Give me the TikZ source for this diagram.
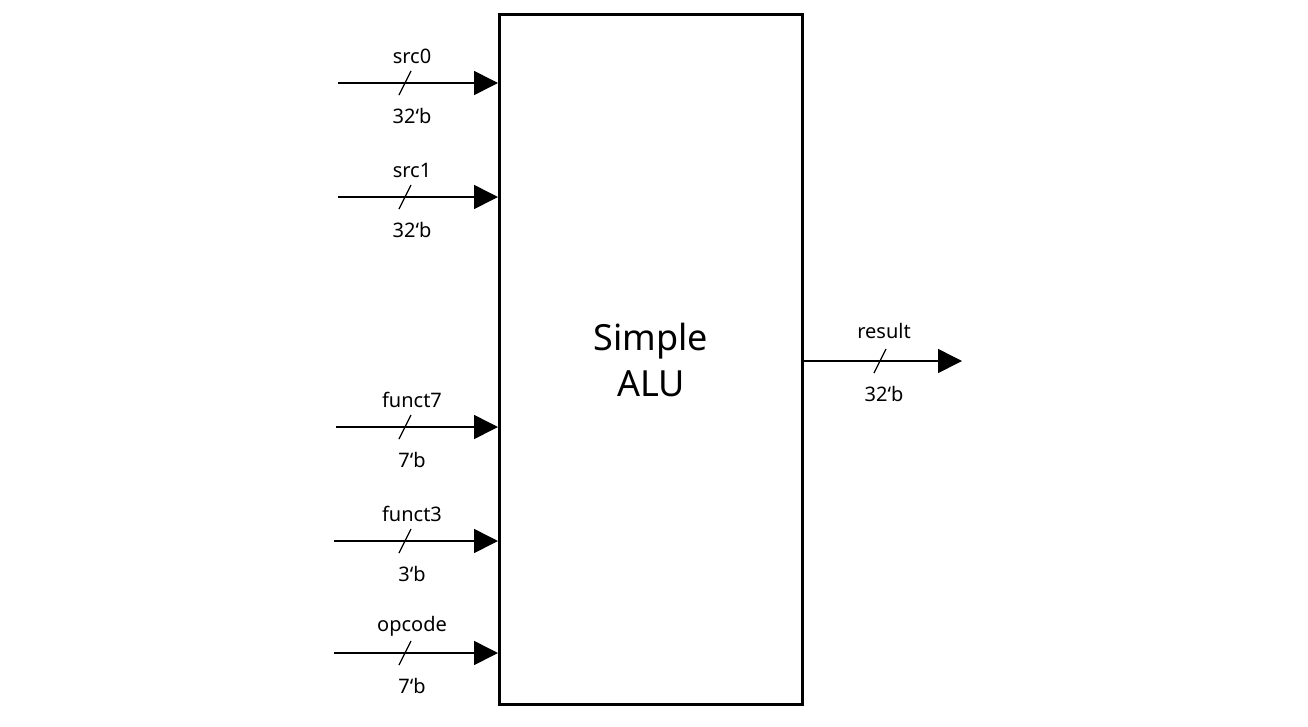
\documentclass[tikz,border=0pt]{standalone}
\usepackage{fontspec}
\setmainfont{Noto Sans}
\usetikzlibrary{arrows.meta}
\begin{document}
\begin{tikzpicture}[x=1pt,y=-1pt,
  sig/.style={line width=1.6pt,-{Triangle[length=24pt,width=24pt]}},
  lbl/.style={font=\fontsize{20}{22}\selectfont,inner sep=1pt},
  slash/.style={line width=1.2pt}]
\useasboundingbox (0,0) rectangle (1308,726);
\node[draw,line width=3pt,minimum width=303pt,minimum height=690pt,anchor=north west,
  font=\fontsize{36}{46}\selectfont,align=center] (alu) at (498,13) {Simple\\ALU};
\foreach \n/\y/\xs/\top/\bot in {a/83/338/src0/32`b, b/197/338/src1/32`b, c/427/336/funct7/7`b, d/541/334/funct3/3`b, e/653/334/opcode/7`b}{
  \coordinate (s\n) at (\xs,\y);
  \coordinate (t\n) at (498,\y);
  \draw[sig] (s\n) -- (t\n);
  \coordinate (m\n) at (405,\y);
  \draw[slash] ([shift={(-6,12)}]m\n) -- ([shift={(6,-12)}]m\n);
  \node[lbl] at (412,\y-27) {\top};
  \node[lbl] at (412,\y+33) {\bot};
}
\coordinate (out) at (962,361);
\draw[sig] (alu.east |- out) -- (out);
\coordinate (mo) at (880,361);
\draw[slash] ([shift={(-6,12)}]mo) -- ([shift={(6,-12)}]mo);
\node[lbl] at (884,331) {result};
\node[lbl] at (884,394) {32`b};
\end{tikzpicture}
\end{document}
